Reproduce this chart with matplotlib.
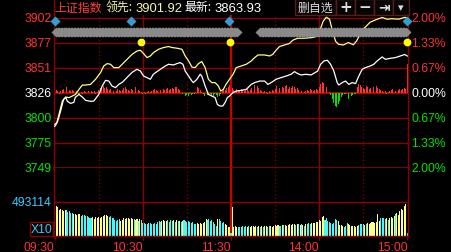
import numpy as np
import matplotlib
matplotlib.use("Agg")
import matplotlib.pyplot as plt
from matplotlib.patches import Rectangle
from matplotlib.lines import Line2D

# ---------------- data ----------------
PREV_CLOSE = 3826.2
LEAD_LAST = 3901.92
LAST = 3863.93

grid_pct = [2.0, 4 / 3, 2 / 3, 0.0, -2 / 3, -4 / 3, -2.0]
left_labels = ["3902", "3877", "3851", "3826", "3800", "3775", "3749"]
right_labels = ["2.00%", "1.33%", "0.67%", "0.00%", "0.67%", "1.33%", "2.00%"]
time_ticks = [0, 60, 120, 180, 240]
time_labels = ["09:30", "10:30", "11:30", "14:00", "15:00"]
vol_tick = 493.114          # thousands
vol_tick_label = "493114"
vol_unit_label = "X10"

white_t = [0, 1, 2, 4, 6, 7.5, 8.6, 10.8, 13, 14, 16.5, 19, 21, 24.4, 26.6, 30, 32.3, 34.6, 36.8, 39,
           41.4, 43.6, 46, 49.3, 52.7, 56, 58.3, 60.5, 62.8, 65.1, 67.1, 69.6, 71.9, 75.3, 77.5, 80.9,
           83.2, 85.4, 87.3, 88.8, 91.1, 93.4, 94.4, 96.8, 99, 100.1, 102.4, 104.6, 106.9, 109.2,
           110.7, 112.5, 114.4, 115.9, 117.5, 119, 120, 121.4, 123.6, 127, 130.4, 133.8, 136.1, 139.5,
           142.9, 145.1, 147.3, 150.7, 154.1, 157.5, 160.9, 163.2, 165.4, 167.7, 171.1, 174.5, 177.2,
           179, 181, 183.3, 185.6, 187.8, 190, 192.3, 193.4, 195.7, 198, 200.2, 202.5, 204.8, 207,
           209.3, 211.5, 214.9, 217.2, 219.5, 222.9, 225.1, 228.5, 231.9, 235.3, 238.2, 240]
white_p = [3792.1, 3794.2, 3797.5, 3807.8, 3819.7, 3821.8, 3817.7, 3815.6, 3816.6, 3821.8,
           3824.8, 3821.8, 3818.7, 3817.7, 3818.0, 3824.8, 3833.3, 3839.1, 3838.4, 3833.3,
           3831.7, 3835.0, 3837.1, 3842.2, 3847.3, 3850.4, 3848.6, 3843.5, 3841.9, 3840.2,
           3845.3, 3848.0, 3850.4, 3853.8, 3855.5, 3854.8, 3856.2, 3857.2, 3855.5, 3848.6,
           3843.5, 3838.4, 3836.8, 3840.2, 3845.3, 3843.5, 3833.3, 3824.8, 3823.1, 3821.5,
           3814.6, 3812.9, 3812.9, 3816.3, 3821.5, 3823.1, 3824.8, 3826.6, 3828.2, 3828.9,
           3829.9, 3835.0, 3836.8, 3838.4, 3838.4, 3835.0, 3836.8, 3840.2, 3841.9, 3843.5,
           3845.3, 3848.0, 3846.0, 3844.6, 3845.3, 3844.6, 3847.0, 3848.6, 3855.5, 3858.9,
           3859.6, 3855.5, 3848.6, 3836.8, 3834.3, 3836.8, 3838.4, 3835.0, 3836.8, 3835.8,
           3843.5, 3850.4, 3852.1, 3853.8, 3855.5, 3858.9, 3863.0, 3860.6, 3861.6, 3862.3,
           3864.0, 3865.5, LAST]

yellow_t = [0, 1.4, 2.9, 5.2, 7.5, 9.7, 12, 14.2, 16.5, 18.8, 21, 24.4, 27.8, 31.2, 33.4, 35.7, 38,
            40.2, 43.6, 45.9, 49.3, 52.7, 56.1, 58.3, 60.5, 62.8, 65.1, 67.3, 70.7, 74.1, 77.5, 79.8,
            83.2, 86.6, 88.8, 91.1, 93.4, 95.6, 97.9, 100.1, 102.4, 104.6, 106.9, 109.2, 111.4, 113,
            114.8, 116.6, 118.2, 119.8, 121.4, 123.6, 127, 130.4, 133.8, 136.1, 138.4, 142.9, 146.3,
            148.5, 150.7, 153, 156.4, 159.8, 162, 165.4, 169.9, 175.6, 179, 180.8, 182.8, 184.9,
            187.1, 189.1, 191.2, 193.2, 196.5, 199.9, 203.3, 205.5, 207.3, 208.6, 214.7, 219.5,
            222.9, 226.3, 229.6, 234.1, 238.7, 240]
yellow_p = [3794.2, 3795.9, 3804.4, 3818.0, 3822.1, 3821.5, 3823.1, 3824.8, 3829.9, 3834.3,
            3834.3, 3835.0, 3840.2, 3847.0, 3853.8, 3856.2, 3855.5, 3852.1, 3852.1, 3855.5,
            3860.6, 3865.7, 3869.1, 3869.8, 3866.4, 3862.3, 3864.0, 3867.5, 3870.8, 3872.6,
            3873.6, 3872.6, 3871.9, 3870.8, 3864.0, 3858.9, 3852.7, 3852.1, 3856.2, 3858.3,
            3852.1, 3840.2, 3836.8, 3836.8, 3833.3, 3828.2, 3829.9, 3835.0, 3838.4, 3841.9,
            3845.3, 3852.1, 3853.8, 3855.5, 3858.9, 3862.3, 3865.0, 3865.0, 3864.0, 3865.7,
            3869.8, 3873.6, 3875.2, 3876.7, 3880.0, 3882.1, 3882.1, 3882.8, 3884.4, 3891.3,
            3899.5, 3903.5, 3901.5, 3889.2, 3879.0, 3875.9, 3875.2, 3877.7, 3875.4, 3879.3,
            3884.4, 3889.2, 3898.4, 3901.5, 3903.2, 3901.5, 3902.0, 3901.5, 3903.5, LEAD_LAST]

# buy/sell strength per minute (index points above / below previous close)
strength = [1, 3, 2, -1, 2, 3, 4, 5, 6, 4,
            3, 2, 3, 2, -1, 2, -1, -1, 1, -1,
            2, 1, 3, 2, 1, 2, 1, 2, -1, 1,
            3, 5, 6, 7, 5, 6, 4, 3, 4, 3,
            2, 3, 2, 4, 3, 2, 3, 5, 6, 4,
            3, 2, 4, 3, 5, 6, 4, 3, 2, 1,
            -1, 1, -1, 1, 2, 1, 2, 3, 4, 3,
            2, 4, 3, 5, 4, 3, 4, 5, 3, 4,
            5, 4, 6, 6, 4, 3, 1, -1, -2, -3,
            -2, -3, -1, -2, -1, -1, 1, 6, 5, 3,
            1, -1, -3, -4, -2, -3, -1, -2, -3, -1,
            -2, -4, -3, -1, 2, 4, 3, 5, 6, 8,
            4, 5, 3, 2, 4, 3, 2, 4, 3, 2,
            3, 4, 2, 3, 5, 6, 8, 9, 7, 5,
            3, 2, 1, 2, 1, -1, 2, 1, 3, 2,
            4, 7, 8, 5, 4, 6, 5, 7, 8, 4,
            6, 5, 7, 6, 4, 5, 3, -1, 2, 3,
            1, 2, 3, 2, 4, 3, 2, 3, 4, 3,
            6, 9, 11, 10, 8, 6, 3, 1, -2, -6,
            -10, -13, -14, -11, -8, -4, -2, -1, -1, -2,
            -6, -5, -3, -2, -1, -1, 6, 9, 8, 6,
            5, 4, 7, 6, 4, 5, 3, 6, 8, 7,
            5, 4, 3, 2, 1, 2, -1, 1, 2, 3,
            4, 3, 2, 4, 3, 4, 3, 4, 5, 4,
            30]

# volume per minute, thousands
volume_k = [1160, 435, 421, 377, 392, 377, 363, 377, 377, 348,
            363, 334, 334, 319, 319, 305, 319, 319, 290, 305,
            305, 290, 290, 276, 261, 261, 276, 247, 276, 261,
            276, 261, 276, 290, 305, 305, 290, 276, 290, 261,
            261, 232, 218, 232, 247, 218, 232, 261, 247, 261,
            261, 247, 261, 247, 247, 232, 247, 218, 247, 232,
            189, 189, 174, 174, 189, 189, 174, 174, 189, 174,
            203, 218, 203, 218, 232, 218, 218, 232, 203, 232,
            218, 232, 203, 232, 218, 218, 203, 218, 232, 218,
            203, 218, 203, 189, 203, 174, 174, 189, 174, 189,
            174, 189, 203, 247, 232, 247, 218, 232, 203, 174,
            145, 247, 247, 218, 189, 203, 174, 160, 131, 131,
            44,
            421, 131, 145, 131, 131, 131, 131, 145, 131, 145,
            131, 145, 131, 145, 145, 131, 145, 131, 145, 131,
            145, 131, 145, 145, 131, 145, 145, 131, 145, 160,
            145, 160, 145, 145, 160, 160, 160, 145, 160, 174,
            160, 174, 174, 160, 174, 174, 160, 174, 160, 145,
            174, 174, 189, 174, 189, 189, 189, 203, 203, 232,
            218, 276, 290, 232, 261, 218, 203, 189, 174, 189,
            247, 232, 218, 160, 160, 145, 131, 145, 189, 174,
            160, 145, 145, 145, 131, 145, 160, 174, 174, 174,
            160, 174, 189, 174, 189, 203, 203, 189, 203, 319,
            218, 261, 261, 261, 247, 261, 232, 261, 276, 261,
            290, 319, 334, 305, 363, 392, 377, 435, 464, 44]

# W = opening, Y = up minute, C = down minute
vol_dir = ("W" + "YYYYYYY" + "CCCCC" + "YYYYY" + "CCCCCCCC" + "YYYYYYYYYYY" + "CCCCCCCC"
           + "YYYYYYY" + "YYCYYCYC" + "CCCCCCCCCCCCC" + "YYYY" + "CCCC" + "YCYCYCYC"
           + "CCCCCCCC" + "YYYYYYY" + "CCCCCCC" + "Y" + "CCCC" + "YYYY" + "C"
           + "YYYY" + "CCCCCC" + "Y" + "C" + "YYYYY" + "C" + "Y" + "C" + "Y" + "C" + "YY" + "CC"
           + "YYYYYY" + "CC" + "Y" + "C" + "YYYYYYY" + "C" + "Y" + "C" + "Y" + "C" + "Y" + "C"
           + "Y" + "CCC" + "YYYYYYYYY" + "CCCCCCCCC" + "YYYY" + "CCC" + "YYYYYYY" + "CCCC"
           + "Y" + "C" + "YYYYYYYYY" + "CCCC" + "Y" + "C" + "YYYY" + "C" + "YYYYYYY" + "C")

band_start = [1, 140]
band_end = [124, 239]
blue_event_t = [0, 52, 118.5, 239.5]
yellow_event_t = [58.5, 119, 239.5]

# ---------------- style ----------------
plt.rcParams["font.family"] = ["Liberation Sans", "Noto Sans CJK SC", "DejaVu Sans"]
GRID = "#8c0000"
RED = "#ff3232"
GREEN = "#00e400"
WHITE = "#ffffff"
CYAN = "#3cc8ff"
FS = 8.8

W, H = 451, 253
fig = plt.figure(figsize=(W / 100, H / 100), dpi=100, facecolor="black")


def fx(px):
    return px / W


def fy(py):
    return 1 - py / H


ax = fig.add_axes([fx(54), fy(169), 354 / W, 153 / H])
axv = fig.add_axes([fx(54), fy(237), 354 / W, 68 / H])

for a in (ax, axv):
    a.set_facecolor("black")
    a.set_xlim(-0.5, 240.5)
    for s in a.spines.values():
        s.set_color(GRID)
        s.set_linewidth(1)
    a.spines["top"].set_visible(False)
    a.set_yticks([])
    for tt in (60, 180):
        a.axvline(tt, color=GRID, lw=1, zorder=1)
    a.axvline(120, color="#c80000", lw=1.6, zorder=1)
    for tt in (30, 90, 150, 210):
        a.axvline(tt, color=GRID, lw=0.9, ls=(0, (1, 2)), zorder=1)

ax.spines["bottom"].set_linewidth(2)
ax.set_xticks([])
ax.set_ylim(PREV_CLOSE * 0.98, PREV_CLOSE * 1.0208)

levels = [PREV_CLOSE * (1 + p / 100) for p in grid_pct]
for lvl, p in zip(levels[:-1], grid_pct[:-1]):
    if p == 0:
        ax.axhline(lvl, color="#b00000", lw=1.5, zorder=1)
    else:
        ax.axhline(lvl, color=GRID, lw=1, zorder=1)

label_cols = [RED, RED, RED, WHITE, GREEN, GREEN, GREEN]
ytr = ax.get_yaxis_transform()
for lvl, ll, rl, c in zip(levels, left_labels, right_labels, label_cols):
    ax.text(-2.5 / 354, lvl, ll, transform=ytr, ha="right", va="center", color=c,
            fontsize=FS, clip_on=False)
    ax.text(1 + 3 / 354, lvl, rl, transform=ytr, ha="left", va="center", color=c,
            fontsize=FS, clip_on=False)

t = np.arange(len(strength))
s = np.array(strength, dtype=float)
ax.bar(t, s, bottom=PREV_CLOSE, width=0.6,
       color=[RED if v > 0 else GREEN for v in s], zorder=2, linewidth=0)

ax.plot(yellow_t, yellow_p, color="#ffff80", lw=0.9, zorder=3)
ax.plot(white_t, white_p, color=WHITE, lw=0.9, zorder=4)

xtr = ax.get_xaxis_transform()
for s0, e0 in zip(band_start, band_end):
    ts = np.arange(s0, e0 + 0.5, 1.0)
    ax.plot(ts, np.full(len(ts), 0.892), transform=xtr, ls="none", marker="D", ms=5.2,
            color="#8a8a8a", mec="none", clip_on=False, zorder=5)
ax.plot(blue_event_t, np.full(len(blue_event_t), 0.958), transform=xtr, ls="none",
        marker="D", ms=5.6, color="#2f9fd0", mec="none", clip_on=False, zorder=6)
ax.plot(yellow_event_t, np.full(len(yellow_event_t), 0.826), transform=xtr, ls="none",
        marker="o", ms=5.6, color="#ffff00", mec="none", clip_on=False, zorder=6)

# volume pane
axv.set_ylim(0, 2 * vol_tick)
axv.axhline(vol_tick, color=GRID, lw=1, zorder=1)
cmap = {"W": "#ffffff", "Y": "#ffff88", "C": "#48f8f8"}
tv = np.arange(len(volume_k))
axv.bar(tv, volume_k, width=0.7, color=[cmap[c] for c in vol_dir[:len(volume_k)]],
        zorder=2, linewidth=0)
axv.text(-2.5 / 354, vol_tick, vol_tick_label, transform=axv.get_yaxis_transform(),
         ha="right", va="center", color=CYAN, fontsize=FS, clip_on=False)
axv.set_xticks(time_ticks)
axv.set_xticklabels(time_labels)
axv.tick_params(axis="x", colors=GRID, length=3, width=1, pad=0.5,
                labelcolor=RED, labelsize=FS)
for lab in axv.get_xticklabels():
    lab.set_ha("right")

fig.add_artist(Rectangle((fx(30), fy(237)), 23 / W, 14 / H, transform=fig.transFigure,
                         fill=False, edgecolor=GRID, lw=1))
fig.text(fx(41.5), fy(230.5), vol_unit_label, ha="center", va="center", color=CYAN, fontsize=FS)

# header
fig.add_artist(Line2D([fx(54), fx(54)], [fy(0), fy(16)], color=GRID, lw=1))
CJK = ["Noto Sans CJK SC", "DejaVu Sans"]
fig.text(fx(54), fy(8), "上证指数", color="#ff3c3c", fontsize=8.6, family=CJK,
         ha="left", va="center")
fig.text(fx(106), fy(8), "领先:", color="#f4f4a8", fontsize=8.6, family=CJK,
         ha="left", va="center")
fig.text(fx(135), fy(8.5), f"{LEAD_LAST:.2f}", color="#f4f4a8", fontsize=9.4,
         family="Liberation Sans", ha="left", va="center")
fig.text(fx(184), fy(8), "最新:", color=WHITE, fontsize=8.6, family=CJK,
         ha="left", va="center")
fig.text(fx(214), fy(8.5), f"{LAST:.2f}", color=WHITE, fontsize=9.4,
         family="Liberation Sans", ha="left", va="center")

buttons = [(295, 336, "删自选", 8.6, CJK, "normal"),
           (336, 355, "+", 11, ["DejaVu Sans"], "bold"),
           (355, 374, "−", 11, ["DejaVu Sans"], "bold"),
           (374, 393, "⇥", 10, ["DejaVu Sans"], "bold"),
           (393, 409, "▾", 8, ["DejaVu Sans"], "normal")]
for x0, x1, txt, fs, fam, fw in buttons:
    fig.add_artist(Rectangle((fx(x0), fy(16)), (x1 - x0) / W, 16 / H,
                             transform=fig.transFigure, facecolor="#050505",
                             edgecolor="#5a1a1a", lw=1))
    fig.text(fx((x0 + x1) / 2), fy(8), txt, color="#dcdcdc", fontsize=fs, family=fam,
             fontweight=fw, ha="center", va="center")

fig.savefig("out.png", dpi=100, facecolor="black")
